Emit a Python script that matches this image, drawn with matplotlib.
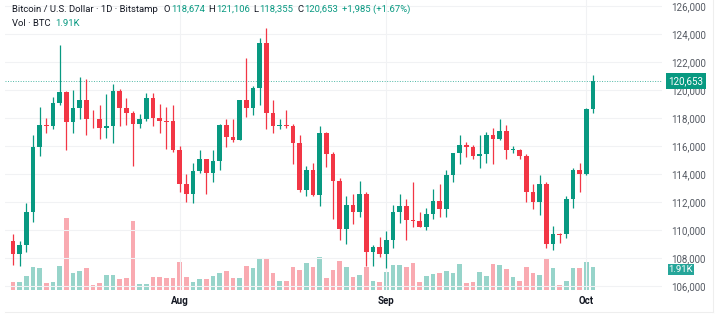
import matplotlib.pyplot as plt
import matplotlib.transforms as mtransforms
from matplotlib.lines import Line2D
import numpy as np
import pandas as pd

plt.rcParams['font.family'] = ['Roboto', 'DejaVu Sans']

# daily BTC/USD candles, Jul 7 - Oct 2 2025 (Bitstamp)
dates = pd.date_range('2025-07-07', '2025-10-02', freq='D')

opens = [109200, 108250, 108950, 111300, 115950, 117500, 117420, 119100, 119850, 117700,
         118700, 119300, 117950, 117900, 117300, 117400, 119950, 118750, 118350, 117600,
         117900, 119450, 118000, 117800, 117800, 115750, 113300, 112550, 114200, 115100,
         114100, 114950, 117500, 116650, 116450, 119300, 118700, 120150, 123350, 118350,
         117400, 117500, 117450, 116250, 112850, 114300, 112500, 116900, 115400, 113500,
         110100, 111800, 111250, 112600, 108400, 108800, 108250, 109250, 111250, 111700,
         110700, 110650, 110200, 111150, 112050, 111500, 113900, 115500, 116100, 115950,
         115300, 115400, 116800, 116500, 117100, 115700, 115700, 115300, 112700, 112000,
         113300, 109000, 109700, 109700, 112200, 114300, 114000, 118674]
highs = [109700, 109200, 111900, 116800, 118800, 118000, 119500, 123200, 119950, 120000,
         120900, 120800, 118600, 118900, 119700, 120400, 120100, 119400, 118500, 118300,
         119800, 119800, 119000, 118800, 118900, 116000, 114000, 114800, 115700, 115100,
         115700, 117600, 117900, 117900, 119300, 122300, 120300, 123700, 124450, 119300,
         117900, 118600, 117600, 116800, 114600, 114800, 117400, 117000, 115600, 113700,
         112400, 112600, 113500, 112700, 108900, 109500, 109900, 111800, 112600, 112200,
         113400, 111300, 111600, 112900, 113300, 114300, 115500, 116800, 116300, 116100,
         116800, 117000, 117300, 117900, 117500, 116000, 115800, 115400, 113300, 113900,
         113400, 110300, 109800, 112400, 114400, 114800, 118700, 121106]
lows = [107500, 107400, 108400, 110600, 115300, 116900, 117250, 118900, 115700, 116900,
        117900, 116800, 117300, 116500, 116600, 116200, 117400, 117500, 114600, 117300,
        117800, 117450, 116900, 115800, 115600, 112700, 112000, 111900, 114100, 112600,
        113400, 114300, 115900, 116300, 116450, 118100, 118200, 118900, 117200, 116900,
        117200, 117300, 114700, 112700, 112400, 112400, 111700, 114500, 110800, 109300,
        109000, 110400, 110900, 107400, 107400, 108100, 107300, 108700, 110500, 109300,
        110200, 110200, 110000, 110800, 110900, 110900, 113400, 114700, 115200, 115100,
        114400, 114800, 114700, 116400, 115100, 115500, 115100, 112000, 111500, 111100,
        108700, 108600, 109100, 109400, 111600, 112700, 113900, 118355]
closes = [108250, 108950, 111300, 115950, 117500, 117420, 119100, 119850, 117700, 118700,
          119300, 117950, 117900, 117300, 117400, 119950, 118750, 118350, 117600, 117900,
          119450, 118000, 117800, 117700, 115750, 113300, 112550, 114200, 115100, 114100,
          114950, 117500, 116650, 116450, 119300, 118700, 120150, 123350, 118350, 117400,
          117500, 117450, 116250, 112850, 114300, 112500, 116900, 115400, 113500, 110100,
          111800, 111250, 112600, 108400, 108800, 108250, 109250, 111250, 111700, 110700,
          110650, 110200, 111150, 112050, 111500, 113900, 115500, 116100, 115950, 115300,
          115400, 116800, 116500, 117100, 115700, 115750, 115300, 112700, 112000, 113300,
          109000, 109700, 109650, 112200, 114300, 114000, 118668, 120653]
# volume in thousands of BTC
volumes = [0.64, 0.64, 1.16, 1.94, 1.85, 0.61, 0.64, 1.99, 5.95, 1.38,
           1.60, 1.83, 0.42, 0.55, 1.25, 1.25, 0.94, 1.02, 5.76, 0.50,
           0.50, 1.05, 1.10, 1.00, 1.00, 2.35, 1.05, 0.69, 0.89, 0.89,
           1.16, 1.38, 1.60, 0.97, 0.97, 2.02, 1.80, 2.60, 2.55, 1.44,
           0.78, 0.78, 1.91, 1.66, 2.21, 1.88, 2.71, 0.97, 1.66, 2.44,
           1.88, 1.05, 1.25, 1.94, 0.78, 0.69, 1.52, 2.08, 2.08, 1.88,
           2.21, 0.69, 1.16, 1.33, 1.38, 1.60, 1.44, 2.13, 0.61, 0.64,
           1.47, 1.16, 2.16, 2.08, 1.77, 1.05, 0.75, 1.94, 1.44, 1.27,
           2.60, 1.80, 0.39, 0.78, 1.83, 1.83, 2.30, 1.91]

price_ticks = [106000, 108000, 110000, 112000, 114000, 116000, 118000,
               120000, 122000, 124000, 126000]
month_labels = ['Aug', 'Sep', 'Oct']
month_starts = ['2025-08-01', '2025-09-01', '2025-10-01']

GREEN = '#089981'
RED = '#F23645'
TEXT = '#131722'

x = np.arange(len(dates))
o = np.array(opens)
c = np.array(closes)
up = c >= o
colors = np.where(up, GREEN, RED)

fig = plt.figure(figsize=(7.2, 3.25), dpi=100)
W, H = 720, 325
ax = fig.add_axes([5 / W, 1 - 290 / H, 657 / W, 290 / H])
ax2 = ax.twinx()

# volume behind the candles
ax2.bar(x, volumes, width=0.72, color=colors, alpha=0.42, linewidth=0)
ax2.set_ylim(0, 24.1)
ax2.set_yticks([])
for s in ax2.spines.values():
    s.set_visible(False)

ax.set_zorder(ax2.get_zorder() + 1)
ax.patch.set_visible(False)

ax.vlines(x, lows, highs, colors=colors, linewidth=0.9, zorder=3)
body = np.maximum(np.abs(c - o), 60)
ax.bar(x, body, bottom=np.minimum(o, c), width=0.7, color=colors,
       linewidth=0, zorder=4)

ax.set_xlim(-1.2, 97.35)
ax.set_ylim(105714, 126429)

ax.yaxis.tick_right()
ax.set_yticks(price_ticks)
ax.set_yticklabels([f'{t:,}' for t in price_ticks])
mpos = [dates.get_loc(pd.Timestamp(d)) for d in month_starts]
ax.set_xticks(mpos)
ax.set_xticklabels(month_labels, fontweight='semibold')
ax.tick_params(axis='y', length=0, pad=6.3, labelsize=7, labelcolor='#555a63')
ax.tick_params(axis='x', length=0, pad=4, labelsize=7, labelcolor=TEXT)
for s in ax.spines.values():
    s.set_visible(False)
ax.grid(True, color='#f1f2f4', linewidth=0.8, zorder=0)

# last price line + labels
last = closes[-1]
ax.axhline(last, color='#4fb8a6', linestyle=(0, (1, 1.6)), linewidth=0.7, zorder=2)
tr = mtransforms.blended_transform_factory(ax.transAxes, ax.transData)
ax.text(1.0 + 6.5 / 657, last, f'{last:,}', transform=tr, ha='left', va='center',
        fontsize=7, color='white', zorder=10, clip_on=False,
        bbox=dict(boxstyle='square,pad=0.3', fc=GREEN, ec='none'))
tr2 = mtransforms.blended_transform_factory(ax2.transAxes, ax2.transData)
tr2 = tr2 + mtransforms.ScaledTranslation(0, -2 / 72, fig.dpi_scale_trans)
ax2.text(1.0 + 6.5 / 657, volumes[-1], f'{volumes[-1]:.2f}K',
         transform=tr2, ha='left', va='center', fontsize=6.8, color='white',
         zorder=10, clip_on=False,
         bbox=dict(boxstyle='square,pad=0.1', fc='#26a69a', ec='none'))

# header legend: segments laid out one after another
renderer = fig.canvas.get_renderer()


def head(px, py, parts):
    for s, col, gap in parts:
        t = fig.text(px / W, 1 - py / H, s, color=col, fontsize=6.8,
                     va='center', ha='left')
        px += t.get_window_extent(renderer).width + gap


chg = closes[-1] - closes[-2]
pct = chg / closes[-2] * 100
head(12, 9, [('Bitcoin / U.S. Dollar · 1D · Bitstamp', TEXT, 6),
             ('O', TEXT, 0.5), (f'{opens[-1]:,}', GREEN, 4),
             ('H', TEXT, 0.5), (f'{highs[-1]:,}', GREEN, 4),
             ('L', TEXT, 0.5), (f'{lows[-1]:,}', GREEN, 4),
             ('C', TEXT, 0.5), (f'{closes[-1]:,}', GREEN, 4),
             (f'+{chg:,} (+{pct:.2f}%)', GREEN, 0)])
head(12, 23, [('Vol · BTC', TEXT, 5), (f'{volumes[-1]:.2f}K', GREEN, 0)])

# outer frame lines of the chart pane
fig.add_artist(Line2D([5 / W, 713 / W], [1 - 312 / H, 1 - 312 / H],
                      transform=fig.transFigure, color='#eeeeee', linewidth=0.8))
fig.add_artist(Line2D([713 / W, 713 / W], [1 - 312 / H, 1.0],
                      transform=fig.transFigure, color='#eeeeee', linewidth=0.8))

fig.savefig('out.png', dpi=100, facecolor='white')
